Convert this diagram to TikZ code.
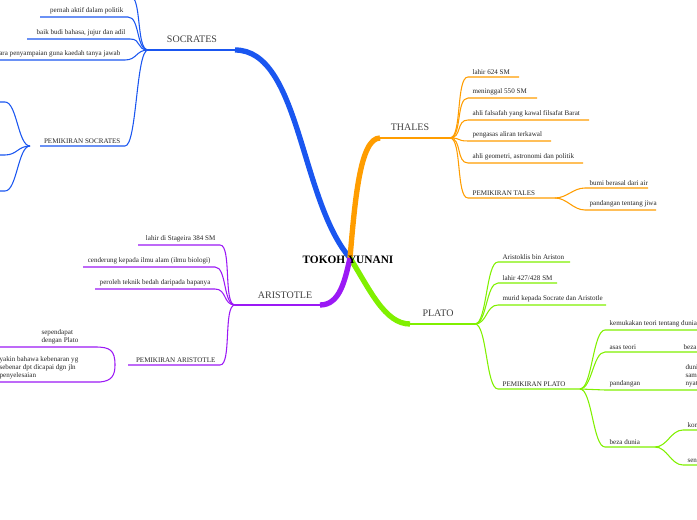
\documentclass[tikz,border=0pt]{standalone}
\usepackage{fontspec}
\setmainfont{Liberation Serif}
\usetikzlibrary{calc}
\begin{document}
\begin{tikzpicture}[x=0.75pt,y=-0.75pt,
 tx/.style={font=\fontsize{5.3}{6.3}\selectfont,inner sep=1pt,align=left,text=black!85},
 br/.style={font=\fontsize{7.5}{9}\selectfont,inner sep=1pt},
 lf/.style={line width=0.8pt}]
\definecolor{cb}{HTML}{1A56F0}\definecolor{co}{HTML}{FF9D00}
\definecolor{cg}{HTML}{80F000}\definecolor{cp}{HTML}{9B19F5}
\useasboundingbox (0,0) rectangle (697,520);
\clip (0,0) rectangle (697,520);
\coordinate (c) at (350,258);
% main branches
\coordinate (soc) at (235,50); \coordinate (soch) at (148,50);
\draw[cb,line width=4pt] (c) .. controls (300,200) and (300,50) .. (soc);
\draw[cb,line width=1pt] (soc) -- (soch);
\node[br,text=black!75] at (192,39) {SOCRATES};
\coordinate (tha) at (380,138); \coordinate (thah) at (450,138);
\draw[co,line width=4pt] (c) .. controls (355,200) and (360,138) .. (tha);
\draw[co,line width=1pt] (tha) -- (thah);
\node[br,text=black!75] at (410,127) {THALES};
\coordinate (pla) at (410,324); \coordinate (plah) at (475,324);
\draw[cg,line width=4pt] (c) .. controls (370,290) and (385,324) .. (pla);
\draw[cg,line width=1pt] (pla) -- (plah);
\node[br,text=black!75] at (438,313) {PLATO};
\coordinate (ari) at (320,305); \coordinate (arih) at (235,305);
\draw[cp,line width=4pt] (c) .. controls (345,280) and (340,305) .. (ari);
\draw[cp,line width=1pt] (ari) -- (arih);
\node[br,text=black!75] at (285,295) {ARISTOTLE};
\node[font=\fontsize{8.5}{10}\selectfont\bfseries] (root) at (348,260) {TOKOH YUNANI};
% leaves
\newcommand\rleaf[6]{\draw[#1,lf] (#2) .. controls ($(#2)+(12,0)$) and (#3-12,#4) .. (#3,#4) -- (#5,#4);
 \node[tx,anchor=south west] at (#3+3,#4-1) {#6};}
\newcommand\lleaf[6]{\draw[#1,lf] (#2) .. controls ($(#2)+(-12,0)$) and (#3+12,#4) .. (#3,#4) -- (#5,#4);
 \node[tx,anchor=south east,align=right] at (#3-3,#4-1) {#6};}
% thales
\rleaf{co}{thah}{468}{77}{519}{lahir 624 SM}
\rleaf{co}{thah}{468}{98}{537}{meninggal 550 SM}
\rleaf{co}{thah}{468}{120}{589}{ahli falsafah yang kawal filsafat Barat}
\rleaf{co}{thah}{468}{141}{551}{pengasas aliran terkawal}
\rleaf{co}{thah}{468}{163}{583}{ahli geometri, astronomi dan politik}
\rleaf{co}{thah}{468}{198}{555}{PEMIKIRAN TALES}
\coordinate (thp) at (555,198);
\rleaf{co}{thp}{585}{188}{648}{bumi berasal dari air}
\rleaf{co}{thp}{585}{210}{656}{pandangan tentang jiwa}
% socrates
\lleaf{cb}{soch}{130}{-4}{40}{}
\lleaf{cb}{soch}{128}{17}{40}{pernah aktif dalam politik}
\lleaf{cb}{soch}{130}{39}{27}{baik budi bahasa, jujur dan adil}
\lleaf{cb}{soch}{125}{60}{0}{cara penyampaian guna kaedah tanya jawab}
\lleaf{cb}{soch}{125}{146}{40}{PEMIKIRAN SOCRATES}
\coordinate (sop) at (30,146);
\lleaf{cb}{sop}{5}{102}{0}{}
\lleaf{cb}{sop}{5}{155}{0}{}
\lleaf{cb}{sop}{5}{191}{0}{}
% aristotle
\lleaf{cp}{arih}{220}{245}{138}{lahir di Stageira 384 SM}
\lleaf{cp}{arih}{215}{267}{83}{cenderung kepada ilmu alam (ilmu biologi)}
\lleaf{cp}{arih}{215}{289}{95}{peroleh teknik bedah daripada bapanya}
\lleaf{cp}{arih}{220}{365}{128}{PEMIKIRAN ARISTOTLE}
\coordinate (arp) at (115,365);
\draw[cp,lf] (arp) .. controls (115,350) and (110,347) .. (95,347) -- (0,347);
\node[tx,anchor=south west] at (40,346) {sependapat\\dengan Plato};
\draw[cp,lf] (arp) .. controls (115,375) and (112,381) .. (100,382) -- (0,382);
\node[tx,anchor=south west] at (-2,381) {yakin bahawa kebenaran yg\\sebenar dpt dicapai dgn jln\\penyelesaian};
% plato
\rleaf{cg}{plah}{498}{262}{570}{Aristoklis bin Ariston}
\rleaf{cg}{plah}{498}{283}{557}{lahir 427/428 SM}
\rleaf{cg}{plah}{498}{305}{606}{murid kepada Socrate dan Aristotle}
\rleaf{cg}{plah}{498}{389}{580}{PEMIKIRAN PLATO}
\coordinate (plp) at (580,389);
\rleaf{cg}{plp}{605}{330}{697}{kemukakan teori tentang dunia idea}
\rleaf{cg}{plp}{605}{352}{697}{asas teori}
\node[tx,anchor=south west] at (682,351) {beza};
\rleaf{cg}{plp}{605}{390}{697}{pandangan}
\node[tx,anchor=south west] at (684,389) {dunia\\sama\\nyata};
\rleaf{cg}{plp}{605}{447}{655}{beza dunia}
\coordinate (plb) at (655,447);
\rleaf{cg}{plb}{683}{430}{697}{kon}
\rleaf{cg}{plb}{683}{465}{697}{sen}
\end{tikzpicture}
\end{document}
